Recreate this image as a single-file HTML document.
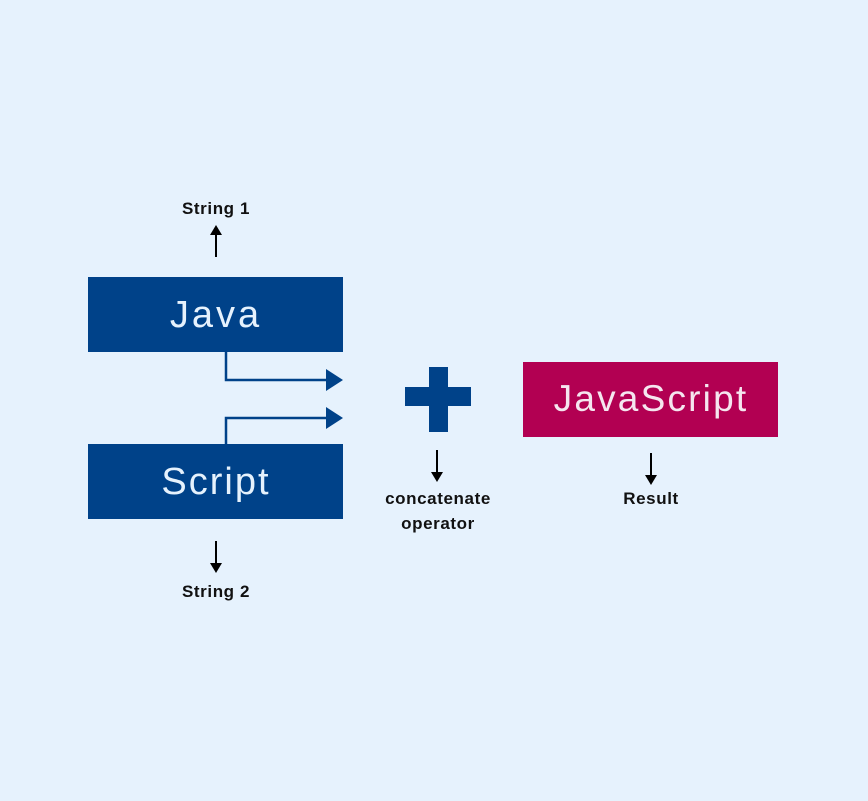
<!DOCTYPE html>
<html><head><style>
body{margin:0;background:#e6f2fd;}
svg{display:block}
text{font-family:"Liberation Sans",sans-serif;}
</style></head><body>
<svg width="868" height="801" viewBox="0 0 868 801">
<rect width="868" height="801" fill="#e6f2fd"/>
<rect x="88" y="277" width="255" height="75" fill="#004289"/>
<rect x="88" y="444" width="255" height="75" fill="#004289"/>
<rect x="523" y="362" width="255" height="75" fill="#b20052"/>
<text x="216" y="327" text-anchor="middle" font-size="38" letter-spacing="3" fill="#e6f2fd">Java</text>
<text x="216" y="494" text-anchor="middle" font-size="38" letter-spacing="2" fill="#e6f2fd">Script</text>
<text x="651" y="411" text-anchor="middle" font-size="37" letter-spacing="2.2" fill="#f5e6ef">JavaScript</text>
<g fill="none" stroke="#004289" stroke-width="2.5">
<path d="M226 352 V380 H328"/>
<path d="M226 444 V418 H328"/>
</g>
<g fill="#004289">
<polygon points="326,369 343,380 326,391"/>
<polygon points="326,407 343,418 326,429"/>
<rect x="405" y="387" width="66" height="19"/>
<rect x="429" y="367" width="19" height="65"/>
</g>
<g stroke="#000" stroke-width="2" fill="#000">
<line x1="216" y1="257" x2="216" y2="232"/><polygon points="210,235 216,225 222,235" stroke="none"/>
<line x1="216" y1="541" x2="216" y2="566"/><polygon points="210,563 216,573 222,563" stroke="none"/>
<line x1="437" y1="450" x2="437" y2="475"/><polygon points="431,472 437,482 443,472" stroke="none"/>
<line x1="651" y1="453" x2="651" y2="478"/><polygon points="645,475 651,485 657,475" stroke="none"/>
</g>
<g font-size="17" font-weight="bold" fill="#111" text-anchor="middle" letter-spacing="0.6">
<text x="216" y="214">String 1</text>
<text x="216" y="597">String 2</text>
<text x="438" y="504">concatenate</text>
<text x="438" y="529">operator</text>
<text x="651" y="504">Result</text>
</g>
</svg>
</body></html>
